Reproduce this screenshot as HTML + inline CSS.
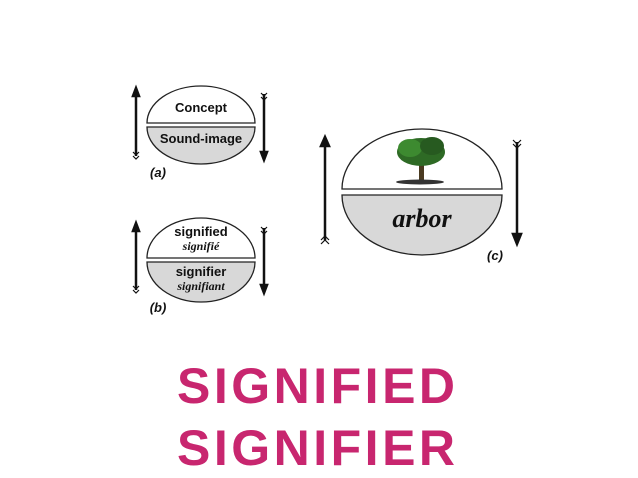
<!DOCTYPE html>
<html><head><style>
body{margin:0;width:638px;height:478px;background:#fff;overflow:hidden;position:relative;font-family:"Liberation Sans",sans-serif}
.t{position:absolute;left:177px;font-weight:bold;font-size:50px;color:#c8266f;letter-spacing:3.5px;line-height:1}
</style></head><body>
<svg width="638" height="478" style="position:absolute;left:0;top:0">
<g stroke="#222" stroke-width="1.3">
<path d="M147,123 A54,37 0 0 1 255,123 Z" fill="#fff"/>
<path d="M147,127 A54,37 0 0 0 255,127 Z" fill="#d8d8d8"/>
<path d="M147,258 A54,40 0 0 1 255,258 Z" fill="#fff"/>
<path d="M147,262 A54,40 0 0 0 255,262 Z" fill="#d8d8d8"/>
<path d="M342,189 A80,60 0 0 1 502,189 Z" fill="#fff"/>
<path d="M342,195 A80,60 0 0 0 502,195 Z" fill="#d8d8d8"/>
</g>
<g stroke="#111" stroke-width="2.5" fill="#111">
<line x1="136" y1="94" x2="136" y2="156"/><polygon points="133,96 136,88 139,96"/>
<line x1="264" y1="94" x2="264" y2="154"/><polygon points="261,152 264,160 267,152"/>
<line x1="136" y1="229" x2="136" y2="290"/><polygon points="133,231 136,223 139,231"/>
<line x1="264" y1="228" x2="264" y2="287"/><polygon points="261,285 264,293 267,285"/>
<line x1="325" y1="144" x2="325" y2="240"/><polygon points="321,146 325,137 329,146"/>
<line x1="517" y1="142" x2="517" y2="236"/><polygon points="513,234 517,244 521,234"/>
</g>
<g stroke="#111" stroke-width="1.2" fill="none">
<path d="M133,152 l3,3 l3,-3 M133,156 l3,3 l3,-3"/>
<path d="M261,93 l3,3 l3,-3 M261,97 l3,3 l3,-3"/>
<path d="M133,286 l3,3 l3,-3 M133,290 l3,3 l3,-3"/>
<path d="M261,227 l3,3 l3,-3 M261,231 l3,3 l3,-3"/>
<path d="M321,240 l4,-4 l4,4 M321,244 l4,-4 l4,4"/>
<path d="M513,140 l4,4 l4,-4 M513,144 l4,4 l4,-4"/>
</g>
<rect x="419" y="160" width="5" height="22" fill="#4a3a20"/>
<ellipse cx="420" cy="182" rx="24" ry="2.5" fill="#333"/>
<ellipse cx="421" cy="152" rx="24" ry="14" fill="#2e6a25"/>
<ellipse cx="410" cy="148" rx="12" ry="9" fill="#3d8a30"/>
<ellipse cx="432" cy="146" rx="12" ry="9" fill="#275a20"/>
<g font-family="Liberation Sans,sans-serif" font-weight="bold" fill="#111" text-anchor="middle">
<text x="201" y="112" font-size="13">Concept</text>
<text x="201" y="143" font-size="13">Sound-image</text>
<text x="201" y="236" font-size="13">signified</text>
<text x="201" y="276" font-size="13">signifier</text>
<text x="158" y="177" font-size="13" font-style="italic">(a)</text>
<text x="158" y="312" font-size="13" font-style="italic">(b)</text>
<text x="495" y="260" font-size="13" font-style="italic">(c)</text>
</g>
<g font-family="Liberation Serif,serif" font-weight="bold" font-style="italic" fill="#111" text-anchor="middle">
<text x="201" y="250" font-size="12">signifié</text>
<text x="201" y="290" font-size="12">signifiant</text>
<text x="422" y="227" font-size="26">arbor</text>
</g>
</svg>
<div class="t" style="top:361px">SIGNIFIED</div>
<div class="t" style="top:423px">SIGNIFIER</div>
</body></html>
